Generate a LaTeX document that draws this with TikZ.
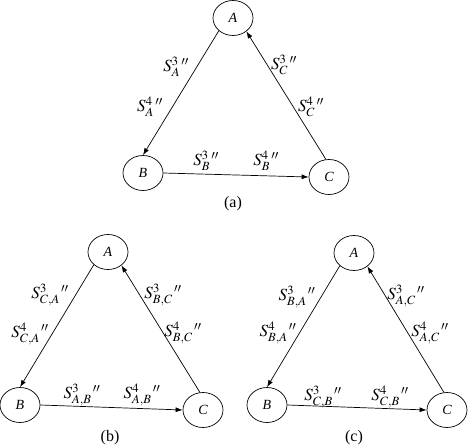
\documentclass[tikz,border=0pt]{standalone}
\usepackage{mathptmx}
\usepackage{fontspec}
\setmainfont{Liberation Serif}
\usetikzlibrary{shapes.geometric,arrows.meta}
\newcommand{\slab}[2]{$S^{#2}_{#1}{}^{\,\prime\prime}$}
\begin{document}
\begin{tikzpicture}
  [x=1pt, y=-1pt]
  \tikzstyle{state} = [draw=black, ellipse, minimum width=40pt, minimum height=35pt, inner sep=0pt, line width=0.7pt, font=\fontsize{14}{14}\selectfont\itshape];
  \tikzstyle{trans} = [draw=black, line width=0.7pt, -{Latex[length=7pt,width=5pt]}];
  \tikzstyle{lbl} = [inner sep=0pt, font=\fontsize{17}{17}\selectfont];
  \tikzstyle{caption} = [font=\fontsize{16}{16}\selectfont];

  \useasboundingbox (0,0) rectangle (474,446);

  % (a)
  \node[state] (aA) at (233, 18) {A};
  \node[state] (aB) at (143, 173) {B};
  \node[state] (aC) at (329, 177) {C};

  \draw[trans] (aA.222) -- (aB.north);
  \draw[trans] (aB.east) -- (aC.west);
  \draw[trans] (aC.100) -- (aA.-45);

  \node[lbl] (aSA3) at (176, 67) {\slab{A}{3}};
  \node[lbl] (aSA4) at (150, 107) {\slab{A}{4}};
  \node[lbl] (aSC3) at (284, 65) {\slab{C}{3}};
  \node[lbl] (aSC4) at (311, 107) {\slab{C}{4}};
  \node[lbl] (aSB3) at (206, 161) {\slab{B}{3}};
  \node[lbl] (aSB4) at (266, 161) {\slab{B}{4}};

  \node[caption] (capa) at (233, 204) {(a)};

  % (b)
  \node[state] (bA) at (108, 252) {A};
  \node[state] (bB) at (20, 405) {B};
  \node[state] (bC) at (203, 410) {C};

  \draw[trans] (bA.222) -- (bB.north);
  \draw[trans] (bB.east) -- (bC.west);
  \draw[trans] (bC.100) -- (bA.-45);

  \node[lbl] (bSCA3) at (50, 295) {\slab{C,A}{3}};
  \node[lbl] (bSCA4) at (30, 334) {\slab{C,A}{4}};
  \node[lbl] (bSBC3) at (163, 295) {\slab{B,C}{3}};
  \node[lbl] (bSBC4) at (183, 333) {\slab{B,C}{4}};
  \node[lbl] (bSAB3) at (82, 395) {\slab{A,B}{3}};
  \node[lbl] (bSAB4) at (142, 395) {\slab{A,B}{4}};

  \node[caption] (capb) at (110, 438) {(b)};

  % (c)
  \node[state] (cA) at (354, 253) {A};
  \node[state] (cB) at (267, 405) {B};
  \node[state] (cC) at (447, 410) {C};

  \draw[trans] (cA.222) -- (cB.north);
  \draw[trans] (cB.east) -- (cC.west);
  \draw[trans] (cC.100) -- (cA.-45);

  \node[lbl] (cSBA3) at (297, 297) {\slab{B,A}{3}};
  \node[lbl] (cSBA4) at (278, 333) {\slab{B,A}{4}};
  \node[lbl] (cSAC3) at (406, 296) {\slab{A,C}{3}};
  \node[lbl] (cSAC4) at (430, 333) {\slab{A,C}{4}};
  \node[lbl] (cSCB3) at (323, 397) {\slab{C,B}{3}};
  \node[lbl] (cSCB4) at (390, 397) {\slab{C,B}{4}};

  \node[caption] (capc) at (354, 438) {(c)};

\end{tikzpicture}
\end{document}
